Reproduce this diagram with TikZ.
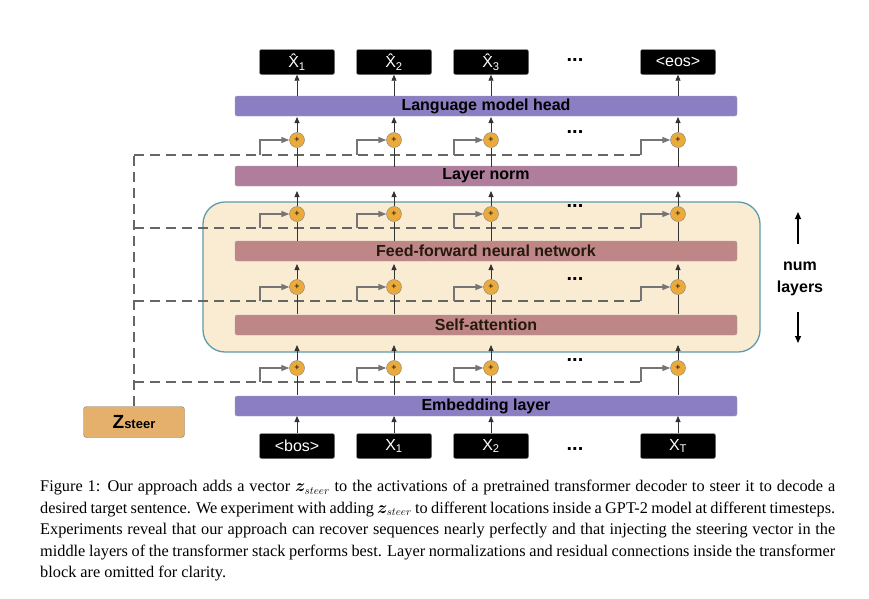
\documentclass[tikz,border=0pt]{standalone}
\usepackage{amsmath,bm}
\usepackage{fontspec}
\setmainfont{Liberation Serif}
\newfontfamily\sans{Liberation Sans}
\usetikzlibrary{arrows.meta}
\definecolor{lmpurple}{HTML}{8B7EC2}
\definecolor{lnpink}{HTML}{B07E9C}
\definecolor{ffrose}{HTML}{BE8686}
\definecolor{blockfill}{HTML}{FAEBD3}
\definecolor{blockline}{HTML}{5E9CAC}
\definecolor{plusc}{HTML}{EAAA3C}
\definecolor{zc}{HTML}{E4B06C}
\definecolor{dashc}{HTML}{666666}
\begin{document}
\begin{tikzpicture}[x=1pt,y=-1pt,
 tok/.style={draw=gray,fill=black,text=white,rounded corners=2pt,minimum width=75pt,minimum height=25pt,font=\sans\fontsize{16}{16}\selectfont,inner sep=0},
 bar/.style={draw=gray!70,rounded corners=2pt,minimum width=502pt,minimum height=20pt,font=\sans\bfseries\fontsize{16}{16}\selectfont,inner sep=0},
 plus/.style={circle,draw=gray,fill=plusc,minimum size=15pt,inner sep=0,font=\sans\fontsize{9}{9}\selectfont},
 up/.style={draw=gray!40!black,-{Triangle[length=6pt,width=5pt]},line width=0.8pt},
 br/.style={draw=dashc!90,line width=1.4pt,-{Triangle[length=8pt,width=6pt]}},
 dsh/.style={draw=dashc,line width=2pt,dash pattern=on 10pt off 6pt},
 dots/.style={font=\sans\bfseries\fontsize{20}{20}\selectfont}]
\useasboundingbox (0,0) rectangle (869,598);
\fill[white] (0,0) rectangle (869,598);
% block
\draw[blockline,fill=blockfill,line width=1.3pt,rounded corners=22pt] (203,202) rectangle (760,352);
% bars
\node[bar,fill=lmpurple] (lm) at (486,106) {Language model head};
\node[bar,fill=lnpink] (ln) at (486,176) {Layer norm};
\node[bar,fill=ffrose,text=black!80!brown] (ff) at (486,251) {Feed-forward neural network};
\node[bar,fill=ffrose,text=black!80!brown] (sa) at (486,325) {Self-attention};
\node[bar,fill=lmpurple] (emb) at (486,406) {Embedding layer};
% tokens
\node[tok] (o1) at (297,62) {X̂\textsubscript{1}};
\node[tok] (o2) at (394,62) {X̂\textsubscript{2}};
\node[tok] (o3) at (491,62) {X̂\textsubscript{3}};
\node[tok] (o4) at (678,62) {<eos>};
\node[tok] (i1) at (297,446) {<bos>};
\node[tok] (i2) at (394,446) {X\textsubscript{1}};
\node[tok] (i3) at (491,446) {X\textsubscript{2}};
\node[tok] (i4) at (678,446) {X\textsubscript{T}};
\node[dots] (dt) at (575,60) {...};
\node[dots] (db) at (575,449) {...};
% z steer
\node[draw=gray,fill=zc,rounded corners=3pt,minimum width=101pt,minimum height=31pt,inner sep=0,font=\sans\bfseries] (z) at (134,422) {{\fontsize{19}{19}\selectfont Z}{\fontsize{13}{13}\selectfont steer}};
\draw[dsh] (z.north) -- (134,155) coordinate (zt);
\foreach \py/\dy/\r in {140/155/a,214/228/b,287/301/c,368/382/d}{
  \draw[dsh] (134,\dy) -- (640,\dy);
  \node[dots] at (575,\py-8) {...};
  \foreach \x/\k in {297/1,394/2,491/3,678/4}{
    \node[plus] (p\r\k) at (\x,\py) {+};
    \draw[line width=0.8pt,draw=gray!40!black] (\x,\py+27) -- (p\r\k.south);
    \draw[br] (\x-37,\dy) |- (p\r\k.west);
    \draw[up] (p\r\k.north) -- (\x,\py-23);
  }
}
\foreach \k/\x in {1/297,2/394,3/491,4/678}{
  \draw[up] (i\k.north) -- (\x,416);
  \draw[up] (lm.north -| o\k) -- (o\k.south);
}
% num layers
\node[font=\sans\bfseries\fontsize{16}{22}\selectfont,align=center] (nl) at (800,279) {num\\layers};
\draw[-{Triangle[length=7pt,width=6pt]},line width=1.2pt] (798,244) -- (798,212);
\draw[-{Triangle[length=7pt,width=6pt]},line width=1.2pt] (798,312) -- (798,343);
% caption
\node[anchor=north west,text width=795pt,align=justify,inner sep=0,font=\fontsize{16.3}{21.5}\selectfont] (cap) at (40,480) {Figure 1: Our approach adds a vector $\bm{z}_{steer}$ to the activations of a pretrained transformer decoder to steer it to decode a desired target sentence. We experiment with adding $\bm{z}_{steer}$ to different locations inside a GPT-2 model at different timesteps. Experiments reveal that our approach can recover sequences nearly perfectly and that injecting the steering vector in the middle layers of the transformer stack performs best. Layer normalizations and residual connections inside the transformer block are omitted for clarity.};
\end{tikzpicture}
\end{document}
